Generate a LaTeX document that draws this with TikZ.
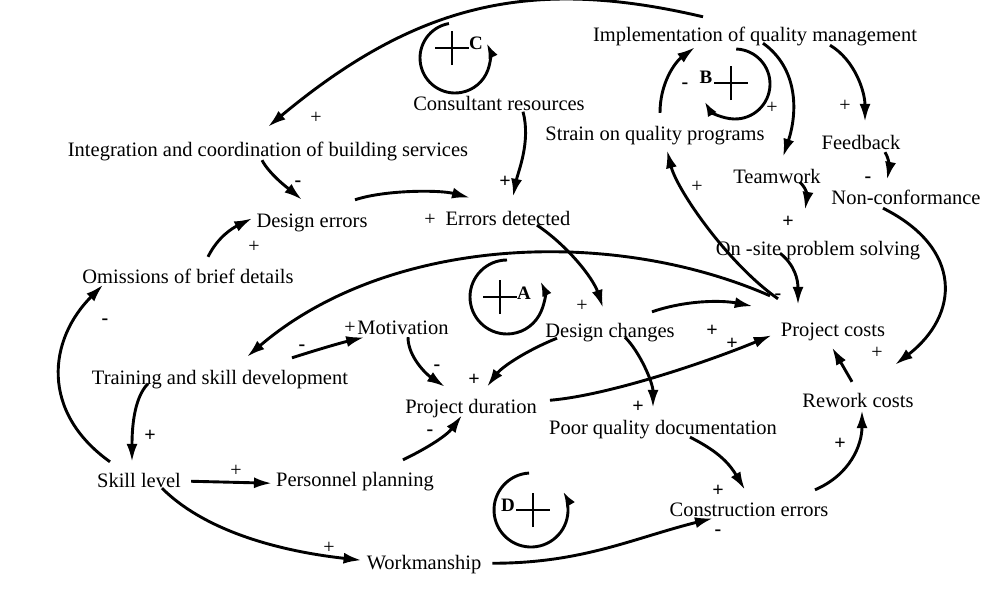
\documentclass[tikz,border=0pt]{standalone}
\usepackage{fontspec}
\setmainfont{Liberation Serif}
\usetikzlibrary{calc,arrows.meta}
\def\loopcross(#1)#2{\draw[line width=1.3pt] ([xshift=-#2]#1) -- ([xshift=#2]#1) ([yshift=-#2]#1) -- ([yshift=#2]#1);}
\def\looparc(#1)(#2:#3:#4){\draw[ring] ([shift={(#2:#4)}]#1) arc (#2:#3:#4);}

\begin{document}
\begin{tikzpicture}[x=1pt,y=-1pt,
		factor/.style={anchor=base,inner sep=1pt,text height=14pt,text depth=4.5pt,font=\fontsize{20.5}{24}\selectfont},
		sgn/.style={inner sep=0pt,font=\fontsize{20}{24}\selectfont},
		looptag/.style={inner sep=0pt,font=\fontsize{19}{22}\selectfont\bfseries},
		link/.style={line width=2.9pt,-{Latex[length=18pt,width=11pt]}},
		ring/.style={line width=2.9pt,-{Latex[length=15pt,width=10pt]}}]
			%%%%% START %%%%%
			\useasboundingbox (0,0) rectangle (984,597);
			
			\node[factor] (impl) at (755,41) {Implementation of quality management};
			\node[factor] (cons) at (499,110) {Consultant resources};
			\node[factor] (strain) at (655,140) {Strain on quality programs};
			\node[factor] (feed) at (861,149) {Feedback};
			\node[factor] (integ) at (268,156) {Integration and coordination of building services};
			\node[factor] (team) at (777,183) {Teamwork};
			\node[factor] (noncon) at (906,204) {Non-conformance};
			\node[factor] (derr) at (312,227) {Design errors};
			\node[factor] (edet) at (508,225) {Errors detected};
			\node[factor] (onsite) at (818,255) {On -site problem solving};
			\node[factor] (omis) at (188,283) {Omissions of brief details};
			\node[factor] (motiv) at (403,334) {Motivation};
			\node[factor] (dchg) at (610,337) {Design changes};
			\node[factor] (pcost) at (833,336) {Project costs};
			\node[factor] (train) at (220,384) {Training and skill development};
			\node[factor] (pdur) at (471,413) {Project duration};
			\node[factor] (rework) at (858,407) {Rework costs};
			\node[factor] (poor) at (663,434) {Poor quality documentation};
			\node[factor] (skill) at (139,487) {Skill level};
			\node[factor] (pplan) at (355,486) {Personnel planning};
			\node[factor] (cerr) at (749,516) {Construction errors};
			\node[factor] (work) at (424,569) {Workmanship};
			
			% links
			\draw[link] ([xshift=-52pt,yshift=9pt]impl.north) .. controls +(-170,-40) and +(150,-125) .. ([yshift=14pt]integ.north);
			\draw[link] ([xshift=-6pt,yshift=1.5pt]integ.south) .. controls +(8,15) and +(-12,-10) .. ([xshift=-10pt,yshift=12pt]derr.north);
			\draw[link] ([xshift=43pt,yshift=12pt]derr.north) .. controls +(30,-10) and +(-30,-8) .. ([xshift=-38pt,yshift=12pt]edet.north);
			\draw[link] ([xshift=24pt,yshift=4pt]cons.south) .. controls +(8,30) and +(5,-25) .. ([xshift=5pt,yshift=13pt]edet.north);
			\draw[link] ([xshift=20pt,yshift=11pt]omis.north) .. controls +(10,-20) and +(-20,10) .. ([xshift=-3pt,yshift=4pt]derr.west);
			\draw[link] ([xshift=-29pt,yshift=10pt]skill.north) .. controls +(-70,-50) and +(-55,55) .. ([xshift=22pt,yshift=4pt]omis.south west);
			\draw[link] ([xshift=-72pt,yshift=6pt]train.south) .. controls +(-15,15) and +(0,-30) .. ([xshift=-7pt,yshift=10pt]skill.north);
			\draw[link] ([xshift=-63pt,yshift=25pt]pcost.north) .. controls +(-160,-70) and +(140,-120) .. ([xshift=27pt,yshift=12pt]train.north);
			\draw[link] ([xshift=72pt,yshift=11pt]train.north) .. controls +(25,-8) and +(-25,6) .. ([xshift=8pt,yshift=-8pt]motiv.west);
			\draw[link] ([xshift=5pt,yshift=2.5pt]motiv.south) .. controls +(0,20) and +(-18,-12) .. ([xshift=-26pt,yshift=11pt]pdur.north);
			\draw[link] ([xshift=-53pt,yshift=4.5pt]dchg.south) .. controls +(-30,12) and +(15,-20) .. ([xshift=16pt,yshift=11pt]pdur.north);
			\draw[link] ([xshift=48pt,yshift=11pt]pplan.north) .. controls +(25,-12) and +(-15,20) .. ([xshift=-9pt,yshift=3.5pt]pdur.south);
			\draw[link] ([xshift=9pt,yshift=1pt]skill.east) -- ([xshift=-3pt,yshift=-2pt]pplan.west);
			\draw[link] ([xshift=23pt,yshift=4.5pt]skill.south) .. controls +(40,40) and +(-90,-10) .. ([xshift=-4pt,yshift=4pt]work.west);
			\draw[link] ([xshift=10pt,yshift=1pt]work.east) .. controls +(90,0) and +(-80,20) .. ([xshift=-36pt,yshift=3.5pt]cerr.south);
			\draw[link] ([xshift=27pt,yshift=2.5pt]poor.south) .. controls +(30,15) and +(-15,-25) .. ([xshift=-4pt,yshift=11pt]cerr.north);
			\draw[link] ([xshift=66pt,yshift=11pt]cerr.north) .. controls +(35,-15) and +(0,35) .. ([xshift=4pt,yshift=2.5pt]rework.south);
			\draw[link] ([xshift=-6pt,yshift=10pt]rework.north) -- ([xshift=-1pt,yshift=-5.5pt]pcost.south);
			\draw[link] ([xshift=-23pt,yshift=1.5pt]noncon.south) .. controls +(80,40) and +(65,-50) .. ([xshift=37pt,yshift=27pt]rework.north);
			\draw[link] ([xshift=75pt,yshift=1.5pt]impl.south) .. controls +(25,15) and +(0,-30) .. ([xshift=4pt,yshift=12pt]feed.north);
			\draw[link] ([xshift=24pt,yshift=2.5pt]feed.south) .. controls +(5,8) and +(2,-10) .. ([xshift=-19pt,yshift=9pt]noncon.north);
			\draw[link] ([xshift=8pt,yshift=3.5pt]impl.south) .. controls +(35,25) and +(15,-45) .. ([xshift=6pt,yshift=11pt]team.north);
			\draw[link] ([xshift=23pt,yshift=6.5pt]team.south) .. controls +(8,8) and +(2,-12) .. ([xshift=-13pt,yshift=30pt]onsite.north);
			\draw[link] ([xshift=-38pt,yshift=7.5pt]onsite.south) .. controls +(15,12) and +(0,-25) .. ([xshift=-35pt,yshift=16pt]pcost.north);
			\draw[link] ([xshift=5pt,yshift=12pt]strain.north) .. controls +(0,-30) and +(-20,15) .. ([xshift=-60pt,yshift=-0.5pt]impl.south);
			\draw[link] ([xshift=-55pt,yshift=22pt]pcost.north) .. controls +(-50,-35) and +(10,40) .. ([xshift=12pt,yshift=-4.5pt]strain.south);
			\draw[link] ([xshift=29pt,yshift=5.5pt]edet.south) .. controls +(30,20) and +(-10,-30) .. ([xshift=-7pt,yshift=14pt]dchg.north);
			\draw[link] ([xshift=42pt,yshift=10pt]dchg.north) .. controls +(35,-12) and +(-30,-6) .. ([xshift=-27pt,yshift=25pt]pcost.west);
			\draw[link] ([xshift=12pt,yshift=8pt]pdur.east) .. controls +(60,-5) and +(-60,25) .. ([xshift=-8pt,yshift=-4pt]pcost.west);
			\draw[link] ([xshift=15pt,yshift=5.5pt]dchg.south) .. controls +(15,15) and +(0,-25) .. ([xshift=-10pt,yshift=11pt]poor.north);
			
			% polarities
			\node[sgn] (p1) at (316,118) {+};
			\node[sgn] (p2) at (298,184) {\textbf{-}};
			\node[sgn] (p3) at (430,220) {+};
			\node[sgn] (p4) at (505,182) {\textbf{+}};
			\node[sgn] (p5) at (254,247) {+};
			\node[sgn] (p6) at (105,322) {\textbf{-}};
			\node[sgn] (p7) at (150,436) {\textbf{+}};
			\node[sgn] (p8) at (778,297) {\textbf{-}};
			\node[sgn] (p9) at (302,348) {\textbf{-}};
			\node[sgn] (p10) at (350,328) {+};
			\node[sgn] (p11) at (437,368) {\textbf{-}};
			\node[sgn] (p12) at (474,380) {\textbf{+}};
			\node[sgn] (p13) at (430,433) {\textbf{-}};
			\node[sgn] (p14) at (236,471) {+};
			\node[sgn] (p15) at (329,548) {+};
			\node[sgn] (p16) at (718,533) {\textbf{-}};
			\node[sgn] (p17) at (718,491) {\textbf{+}};
			\node[sgn] (p18) at (840,444) {\textbf{+}};
			\node[sgn] (p19) at (877,353) {+};
			\node[sgn] (p20) at (845,106) {+};
			\node[sgn] (p21) at (868,180) {\textbf{-}};
			\node[sgn] (p22) at (772,108) {+};
			\node[sgn] (p23) at (788,222) {\textbf{+}};
			\node[sgn] (p24) at (685,86) {\textbf{-}};
			\node[sgn] (p25) at (697,187) {+};
			\node[sgn] (p26) at (582,306) {+};
			\node[sgn] (p27) at (712,331) {\textbf{+}};
			\node[sgn] (p28) at (732,344) {\textbf{+}};
			\node[sgn] (p29) at (638,407) {\textbf{+}};
			
			% loops
			\coordinate (ringC) at (455,58);
			\coordinate (ringB) at (735,84);
			\coordinate (ringA) at (507,297);
			\coordinate (ringD) at (531,510);
			\looparc(ringC)(-100:-385:35)
			\looparc(ringB)(-88:150:35)
			\looparc(ringA)(-90:-385:37)
			\looparc(ringD)(-93:-390:37)
			
			\coordinate (crossC) at (452,48);
			\coordinate (crossB) at (731,83);
			\coordinate (crossA) at (500,297);
			\coordinate (crossD) at (533,510);
			\loopcross(crossC){17pt}
			\loopcross(crossB){17pt}
			\loopcross(crossA){17pt}
			\loopcross(crossD){17pt}
			
			\node[looptag] (tagC) at (476,43) {C};
			\node[looptag] (tagB) at (706,77) {B};
			\node[looptag] (tagA) at (524,293) {A};
			\node[looptag] (tagD) at (508,505) {D};
			
			%%%%% END %%%%%
		\end{tikzpicture}
\end{document}
